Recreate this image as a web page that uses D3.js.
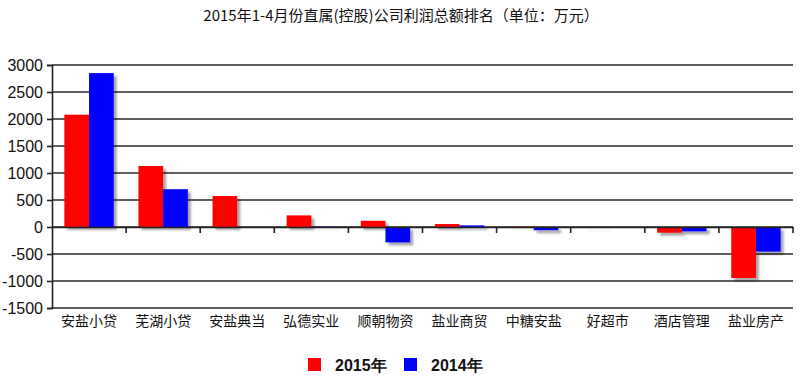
<!DOCTYPE html>
<html>
<head>
<meta charset="utf-8">
<script src="https://cdn.jsdelivr.net/npm/d3@7"></script>
<style>
  body { margin: 0; background: #fff; }
  svg { display: block; }
</style>
</head>
<body>
<div id="chart"></div>
<script>
// data (unit: 万元)
const categories = ['安盐小贷', '芜湖小贷', '安盐典当', '弘德实业', '顺朝物资', '盐业商贸', '中糖安盐', '好超市', '酒店管理', '盐业房产'];
const series2015 = [2080, 1130, 575, 215, 115, 55, 5, -5, -105, -945];
const series2014 = [2850, 700, 0, 5, -285, 30, -60, 0, -80, -455];
const seriesNames = ['2015年', '2014年'];
const yTicks = [3000, 2500, 2000, 1500, 1000, 500, 0, -500, -1000, -1500];

const width = 800;
const height = 384;
const margin = { top: 65, right: 7, bottom: 76, left: 52 };
const colors = ['#ff0000', '#0000ff'];

const svg = d3.select('#chart')
  .append('svg')
  .attr('width', width)
  .attr('height', height);

// drop shadow behind the bars
const defs = svg.append('defs');
const shadow = defs.append('filter')
  .attr('id', 'shadow')
  .attr('x', '-20%').attr('y', '-20%')
  .attr('width', '150%').attr('height', '150%');
shadow.append('feDropShadow')
  .attr('dx', 3).attr('dy', 3)
  .attr('stdDeviation', 1.2)
  .attr('flood-color', '#000')
  .attr('flood-opacity', 0.35);

// title
svg.append('text')
  .attr('x', 401)
  .attr('y', 21)
  .attr('text-anchor', 'middle')
  .style('font-family', '"Noto Sans CJK SC", sans-serif')
  .style('font-size', '15px')
  .attr('fill', '#111')
  .text('2015年1-4月份直属(控股)公司利润总额排名（单位：万元）');

const x = d3.scaleBand()
  .domain(categories)
  .range([margin.left, width - margin.right]);

const y = d3.scaleLinear()
  .domain([-1500, 3000])
  .range([height - margin.bottom, margin.top]);

const x1 = d3.scaleBand()
  .domain(seriesNames)
  .range([0, x.bandwidth()])
  .paddingOuter(0.5);

// horizontal grid lines
svg.append('g')
  .selectAll('line')
  .data(yTicks)
  .join('line')
  .attr('x1', margin.left)
  .attr('x2', width - margin.right)
  .attr('y1', (d) => y(d))
  .attr('y2', (d) => y(d))
  .attr('stroke', '#2a2a2a')
  .attr('stroke-width', 1.6);

// y axis
const yAxis = svg.append('g')
  .attr('transform', `translate(${margin.left},0)`)
  .call(d3.axisLeft(y).tickValues(yTicks).tickSize(5).tickPadding(4).tickFormat((d) => String(d)));
yAxis.select('.domain').attr('stroke', '#222').attr('stroke-width', 1.6);
yAxis.selectAll('.tick line').attr('stroke', '#222').attr('stroke-width', 1.6);
yAxis.selectAll('text')
  .style('font-family', '"Liberation Sans", Arial, sans-serif')
  .style('font-size', '16px')
  .attr('fill', '#111');

// bars
const bars = svg.append('g').attr('filter', 'url(#shadow)');
[series2015, series2014].forEach((values, si) => {
  bars.append('g')
    .selectAll('rect')
    .data(values)
    .join('rect')
    .attr('x', (d, i) => x(categories[i]) + x1(seriesNames[si]))
    .attr('width', x1.bandwidth())
    .attr('y', (d) => y(Math.max(0, d)))
    .attr('height', (d) => Math.abs(y(d) - y(0)))
    .attr('fill', colors[si]);
});

// zero line with category ticks
const xAxis = svg.append('g')
  .attr('transform', `translate(0,${y(0)})`)
  .call(d3.axisBottom(x).tickSize(0).tickFormat(''));
xAxis.select('.domain').attr('stroke', '#222').attr('stroke-width', 1.6);
svg.append('g')
  .selectAll('line')
  .data(categories.slice(1).concat(['end']))
  .join('line')
  .attr('x1', (d) => (d === 'end' ? width - margin.right : x(d)))
  .attr('x2', (d) => (d === 'end' ? width - margin.right : x(d)))
  .attr('y1', y(0))
  .attr('y2', y(0) + 6)
  .attr('stroke', '#222')
  .attr('stroke-width', 1.6);

// category labels below the plot
svg.append('g')
  .selectAll('text')
  .data(categories)
  .join('text')
  .attr('x', (d) => x(d) + x.bandwidth() / 2)
  .attr('y', y(-1500) + 18)
  .attr('text-anchor', 'middle')
  .style('font-family', '"Noto Sans CJK SC", sans-serif')
  .style('font-size', '14px')
  .attr('fill', '#111')
  .text((d) => d);

// legend
const legendX = [308, 404];
const legend = svg.append('g');
seriesNames.forEach((name, i) => {
  legend.append('rect')
    .attr('x', legendX[i])
    .attr('y', 358)
    .attr('width', 13)
    .attr('height', 13)
    .attr('fill', colors[i]);
  legend.append('text')
    .attr('x', legendX[i] + 27)
    .attr('y', 371)
    .style('font-family', '"Liberation Sans", Arial, sans-serif')
    .style('font-size', '16px')
    .style('font-weight', 'bold')
    .attr('fill', '#111')
    .text(name);
});
</script>
</body>
</html>
